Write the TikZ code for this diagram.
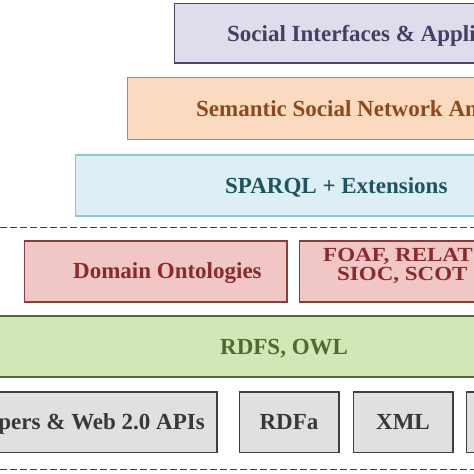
\documentclass[tikz,border=0pt]{standalone}
\usepackage{fontspec}
\setmainfont{Liberation Serif}
\definecolor{purpleFill}{HTML}{E0DCEB}
\definecolor{purpleLine}{HTML}{4B4565}
\definecolor{purpleText}{HTML}{463E63}
\definecolor{orangeFill}{HTML}{FCDAC0}
\definecolor{orangeLine}{HTML}{E07A35}
\definecolor{orangeText}{HTML}{8A4A1E}
\definecolor{cyanFill}{HTML}{DBEFF4}
\definecolor{cyanLine}{HTML}{8CC8D0}
\definecolor{cyanText}{HTML}{1F5560}
\definecolor{redFill}{HTML}{F1C6C6}
\definecolor{redLine}{HTML}{8E3B3B}
\definecolor{redText}{HTML}{8B2A2A}
\definecolor{greenFill}{HTML}{D3E6B6}
\definecolor{greenLine}{HTML}{506A33}
\definecolor{greenText}{HTML}{4F6A2E}
\definecolor{grayFill}{HTML}{E0E0E0}
\definecolor{grayLine}{HTML}{404040}
\definecolor{grayText}{HTML}{383838}
\definecolor{dashColor}{HTML}{404040}
\tikzset{
  layerbox/.style={draw, line width=1.5pt, inner sep=0pt, outer sep=0pt, anchor=north west},
  layertext/.style={font=\fontsize{23}{24}\selectfont\bfseries, inner sep=0pt, anchor=base west},
  smalltext/.style={font=\fontsize{20}{19}\selectfont\bfseries, inner sep=0pt, anchor=base west},
  sepline/.style={draw=dashColor, line width=1.3pt, dash pattern=on 6.5pt off 3.5pt}
}
\begin{document}
\begin{tikzpicture}[x=1pt,y=-1pt]
\useasboundingbox (0,0) rectangle (474,474);
\clip (0,0) rectangle (474,474);
% top layers
\node[layerbox, draw=purpleLine, fill=purpleFill, minimum width=400pt, minimum height=59.5pt] (b1) at (174.5,3.5) {};
\node[layertext, text=purpleText] (t1) at (227,41) {Social Interfaces \& Appli};
\node[layerbox, draw=orangeLine, fill=orangeFill, minimum width=440pt, minimum height=62pt] (b2) at (127.5,77.5) {};
\node[layertext, text=orangeText] (t2) at (196,116) {Semantic Social Network An};
\node[layerbox, draw=cyanLine, fill=cyanFill, minimum width=480pt, minimum height=61pt] (b3) at (75.5,155) {};
\node[layertext, text=cyanText] (t3) at (225,193) {SPARQL + Extensions};
% separator
\coordinate (d1a) at (0,227.5);
\coordinate (d1b) at (474,227.5);
\draw[sepline] (d1a) -- (d1b);
% ontologies
\node[layerbox, draw=redLine, fill=redFill, minimum width=262.5pt, minimum height=61pt] (b4) at (24.5,241) {};
\node[layertext, text=redText] (t4) at (73,278.5) {Domain Ontologies};
\node[layerbox, draw=redLine, fill=redFill, minimum width=300pt, minimum height=61pt] (b5) at (299.5,241) {};
\node[smalltext, text=redText] (t5a) at (323,261) {\scalebox{1.15}[1]{FOAF, RELAT}};
\node[smalltext, text=redText] (t5b) at (337,280) {\scalebox{1.15}[1]{SIOC, SCOT}};
% RDFS
\node[layerbox, draw=greenLine, fill=greenFill, minimum width=600pt, minimum height=61pt] (b6) at (-20,316) {};
\node[layertext, text=greenText] (t6) at (220,354) {RDFS, OWL};
% bottom
\node[layerbox, draw=grayLine, fill=grayFill, minimum width=237pt, minimum height=60.5pt] (b7) at (-20,392) {};
\node[layertext, text=grayText, anchor=base east] (t7) at (205,429) {pers \& Web 2.0 APIs};
\node[layerbox, draw=grayLine, fill=grayFill, minimum width=99.5pt, minimum height=60.5pt] (b8) at (239.5,392) {};
\node[layertext, text=grayText, anchor=base] (t8) at (289,429) {RDFa};
\node[layerbox, draw=grayLine, fill=grayFill, minimum width=99.5pt, minimum height=60.5pt] (b9) at (353.5,392) {};
\node[layertext, text=grayText, anchor=base] (t9) at (403,429) {XML};
\node[layerbox, draw=grayLine, fill=grayFill, minimum width=100pt, minimum height=60.5pt] (b10) at (466.5,392) {};
\coordinate (d2a) at (0,469.5);
\coordinate (d2b) at (474,469.5);
\draw[sepline] (d2a) -- (d2b);
\end{tikzpicture}
\end{document}
